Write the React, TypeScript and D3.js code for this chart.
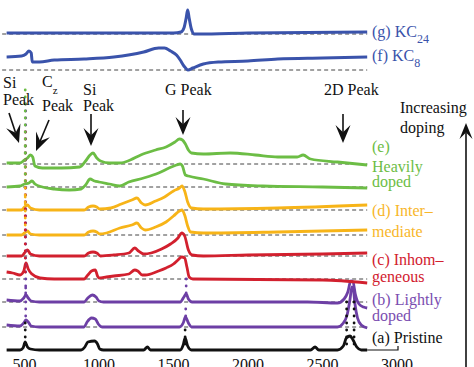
import React from 'react';
import * as d3 from 'd3';

type Pt = [number, number];

const xTicks = [500, 1000, 1500, 2000, 2500, 3000];

// [Raman shift cm^-1, intensity above the spectrum's own baseline]
const pristine: Pt[] = [[380,0],[470,0],[490,2],[505,8],[520,3],[540,1],[600,0],[880,0],[905,3],[925,8],[970,9],[990,6],[1005,1],[1030,0],[1300,0],[1325,3],[1345,0],[1545,0],[1565,5],[1578,12],[1595,4],[1620,0],[2420,0],[2450,3],[2475,0],[2600,0],[2640,4],[2660,12],[2685,14],[2705,10],[2730,3],[2760,0],[2800,0]];
const light1: Pt[] = [[380,2],[470,1],[495,4],[510,7],[525,5],[545,1],[600,0],[900,0],[920,5],[950,9],[975,8],[995,3],[1020,0],[1540,0],[1565,4],[1580,10],[1600,4],[1620,0],[2600,0],[2640,4],[2665,12],[2685,28],[2697,40],[2707,38],[2717,24],[2735,9],[2760,2],[2800,-1]];
const light2: Pt[] = [[380,2],[470,1],[495,4],[510,7],[525,4],[545,1],[600,0],[900,0],[925,4],[955,7],[980,5],[1000,1],[1030,0],[1545,0],[1570,5],[1585,8],[1600,3],[1625,0],[2400,0],[2600,-1],[2645,3],[2670,10],[2690,21],[2705,20],[2720,8],[2745,-2],[2775,-5],[2800,-6]];
const inhom1: Pt[] = [[380,7],[420,6],[470,4],[495,8],[510,16],[525,10],[550,5],[604,1],[700,0],[900,0],[925,4],[950,8],[975,9],[990,3],[1000,1],[1050,2],[1100,3],[1200,5],[1240,9],[1260,8],[1290,4],[1310,4],[1400,8],[1450,11],[1500,15],[1530,19],[1555,22],[1575,21],[1590,12],[1605,2],[1630,0],[2500,-1],[2800,-4]];
const inhom2: Pt[] = [[380,0],[480,0],[500,3],[520,6],[540,2],[600,0],[900,0],[930,3],[960,4],[985,3],[1010,0],[1100,1],[1200,3],[1240,8],[1265,5],[1300,2],[1350,3],[1420,7],[1480,12],[1530,18],[1555,23],[1575,20],[1600,6],[1625,1],[1700,0],[2000,1],[2500,2],[2800,3]];
const inter1: Pt[] = [[380,0],[480,0],[500,2],[520,4],[540,1],[600,0],[900,0],[930,3],[960,4],[985,3],[1005,1],[1050,2],[1140,7],[1220,10],[1255,12],[1285,7],[1310,5],[1380,8],[1450,13],[1500,19],[1540,24],[1557,25],[1575,20],[1595,9],[1615,3],[1700,2],[2200,3],[2800,5]];
const inter2: Pt[] = [[380,0],[480,0],[500,3],[520,5],[540,2],[600,0],[900,0],[930,3],[960,4],[985,3],[1005,1],[1080,2],[1150,6],[1220,10],[1255,12],[1285,7],[1310,5],[1380,9],[1440,13],[1500,19],[1540,22],[1557,24],[1575,19],[1595,8],[1620,2],[1700,1],[2200,2],[2800,5]];
const heavy1: Pt[] = [[380,0],[470,1],[500,3],[530,4],[550,6],[570,3],[620,0],[700,-2],[800,-3],[880,-2],[910,2],[940,8],[970,6],[1000,5],[1070,3],[1140,1],[1200,5],[1300,9],[1400,14],[1470,19],[1520,22],[1545,23],[1560,21],[1580,12],[1600,11],[1700,8],[1850,3],[2100,1],[2500,0],[2800,-1]];
const heavy2: Pt[] = [[380,1],[470,1],[500,4],[520,6],[540,9],[555,7],[570,-2],[620,-4],[750,-4],[870,-3],[910,3],[940,9],[960,11],[985,6],[1010,3],[1070,1],[1140,1],[1210,4],[1280,9],[1380,14],[1450,17],[1510,22],[1540,25],[1560,24],[1580,20],[1600,14],[1620,11],[1700,10],[1880,11],[2050,9],[2200,7],[2330,7],[2370,9],[2420,5],[2600,2],[2800,-1]];
const kc8: Pt[] = [[380,13],[480,14],[510,16],[530,19],[545,17],[552,8],[600,8],[700,10],[900,11],[1100,13],[1300,18],[1400,22],[1440,22],[1480,19],[1520,15],[1545,10],[1570,4],[1597,0],[1630,2],[1700,6],[1800,8],[2000,9],[2200,11],[2500,12],[2800,13]];
const kc24: Pt[] = [[380,1],[1000,1],[1500,1],[1550,2],[1570,6],[1585,16],[1595,24],[1605,16],[1620,5],[1640,0],[1670,0],[2000,1],[2800,2]];

// steep, sparsely sampled peaks (drawn as dots): [shift, height]
const pristineSpikes: Pt[] = [[505,30],[1578,27],[2662,50],[2712,50]];
const light1Spikes: Pt[] = [[508,45],[1582,25]];
const light2Spikes: Pt[] = [[508,200],[1585,24]];
const inhom1Spikes: Pt[] = [[505,35]];
const inhom2Spikes: Pt[] = [[505,130]];
const inter1Spikes: Pt[] = [[505,45]];
const inter2Spikes: Pt[] = [[505,50]];
const heavy1Spikes: Pt[] = [[505,45]];
const heavy2Spikes: Pt[] = [[505,80]];

const offsets = [0, 23, 48, 71, 94, 115, 140, 163, 186, 280, 316];

const BLUE = '#3a53ab', GREEN = '#6cbd45', YELLOW = '#f7b418', RED = '#d2202e', PURPLE = '#6d3fa5', BLACK = '#111';

const spectra = [
  { data: pristine, spikes: pristineSpikes, off: offsets[0], color: BLACK, dash: false },
  { data: light1, spikes: light1Spikes, off: offsets[1], color: PURPLE, dash: true },
  { data: light2, spikes: light2Spikes, off: offsets[2], color: PURPLE, dash: true },
  { data: inhom1, spikes: inhom1Spikes, off: offsets[3], color: RED, dash: true },
  { data: inhom2, spikes: inhom2Spikes, off: offsets[4], color: RED, dash: true },
  { data: inter1, spikes: inter1Spikes, off: offsets[5], color: YELLOW, dash: true },
  { data: inter2, spikes: inter2Spikes, off: offsets[6], color: YELLOW, dash: true },
  { data: heavy1, spikes: heavy1Spikes, off: offsets[7], color: GREEN, dash: true },
  { data: heavy2, spikes: heavy2Spikes, off: offsets[8], color: GREEN, dash: true },
  { data: kc8, spikes: [] as Pt[], off: offsets[9], color: BLUE, dash: true },
  { data: kc24, spikes: [] as Pt[], off: offsets[10], color: BLUE, dash: true },
];

const FONT = 'Liberation Serif, Times New Roman, DejaVu Serif, serif';

const Arrow = ({ x1, y1, x2, y2, head = 18, w = 15 }: any) => {
  const a = Math.atan2(y2 - y1, x2 - x1);
  const ux = Math.cos(a), uy = Math.sin(a);
  const px = -uy, py = ux;
  const bx = x2 - ux * head, by = y2 - uy * head;
  const nx = x2 - ux * head * 0.6, ny = y2 - uy * head * 0.6;
  const d = `M${x2},${y2}L${bx + px * w / 2},${by + py * w / 2}L${nx},${ny}L${bx - px * w / 2},${by - py * w / 2}Z`;
  return (
    <g>
      <line x1={x1} y1={y1} x2={nx} y2={ny} stroke={BLACK} strokeWidth={1.6} />
      <path d={d} fill={BLACK} />
    </g>
  );
};

const App = () => {
  const W = 474, H = 367;
  const x = d3.scaleLinear().domain([500, 3000]).range([24.5, 397]);
  const y = d3.scaleLinear().domain([0, 350]).range([350, 0]);

  const lineFor = (off: number) =>
    d3.line<Pt>().x(d => x(d[0])).y(d => y(d[1] + off)).curve(d3.curveMonotoneX);

  const txt = (s: any, tx: number, ty: number, color = BLACK, size = 16) => (
    <text x={tx} y={ty} fill={color} style={{ fontSize: size, fontFamily: FONT }}>{s}</text>
  );

  return (
    <svg width={W} height={H} style={{ position: 'absolute', left: 0, top: 0, background: '#fff', fontFamily: FONT }}>
      {/* baseline references */}
      {spectra.filter(s => s.dash).map((s, i) => (
        <line key={'d' + i} x1={x(350)} x2={x(2800)} y1={y(s.off)} y2={y(s.off)}
          stroke="#444" strokeWidth={1} strokeDasharray="4 3" />
      ))}
      {spectra.map((s, i) => (
        <path key={'l' + i} d={lineFor(s.off)(s.data) || ''} fill="none" stroke={s.color}
          strokeWidth={s.color === BLUE ? 3 : 2.8} strokeLinejoin="round" />
      ))}
      {spectra.map((s, i) => s.spikes.map((p, j) => (
        <line key={'s' + i + '-' + j} x1={x(p[0])} x2={x(p[0])} y1={y(s.off + 6)} y2={y(s.off + p[1])}
          stroke={s.color} strokeWidth={2.8} strokeLinecap="round" strokeDasharray="0 7"
          strokeDashoffset={i * 2} />
      )))}
      <path d={`M${x(2800)},${y(0)}H398V346`} fill="none" stroke={BLACK} strokeWidth={1.2} />

      {/* x tick labels */}
      {xTicks.map(t => (
        <text key={t} x={x(t)} y={370} textAnchor="middle" fill={BLACK} style={{ fontSize: 16, fontFamily: FONT }}>{t}</text>
      ))}

      {/* peak annotations */}
      {txt('Si', 3, 88)}
      {txt('Peak', 3, 105)}
      <text x={42} y={87} fill={BLACK} style={{ fontSize: 16, fontFamily: FONT }}>C<tspan style={{ fontSize: 11 }} dy={7}>z</tspan></text>
      {txt('Peak', 42, 111)}
      {txt('Si', 83, 95)}
      {txt('Peak', 83, 111)}
      {txt('G Peak', 165, 95)}
      {txt('2D Peak', 324, 95)}
      {txt('Increasing', 400, 113)}
      {txt('doping', 400, 133)}

      <Arrow x1={9} y1={113} x2={19} y2={143} />
      <Arrow x1={49} y1={120} x2={36} y2={151} />
      <Arrow x1={91} y1={114} x2={91} y2={146} />
      <Arrow x1={183} y1={110} x2={183} y2={135} />
      <Arrow x1={343} y1={114} x2={343} y2={143} />
      <Arrow x1={466} y1={367} x2={466} y2={123} head={16} w={13} />

      {/* series labels */}
      <text x={372} y={37} fill={BLUE} style={{ fontSize: 16, fontFamily: FONT }}>(g) KC<tspan style={{ fontSize: 12 }} dy={6}>24</tspan></text>
      <text x={372} y={61} fill={BLUE} style={{ fontSize: 16, fontFamily: FONT }}>(f) KC<tspan style={{ fontSize: 12 }} dy={6}>8</tspan></text>
      {txt('(e)', 372, 152, GREEN)}
      {txt('Heavily', 372, 172, GREEN)}
      {txt('doped', 372, 187, GREEN)}
      {txt('(d) Inter\u2013', 372, 216, '#f8b62a')}
      {txt('mediate', 372, 237, '#f8b62a')}
      {txt('(c) Inhom\u2013', 372, 265, RED)}
      {txt('geneous', 372, 282, RED)}
      {txt('(b) Lightly', 372, 305, '#7a4db0')}
      {txt('doped', 372, 321, '#7a4db0')}
      {txt('(a) Pristine', 372, 343, BLACK)}
    </svg>
  );
};

export default App;
